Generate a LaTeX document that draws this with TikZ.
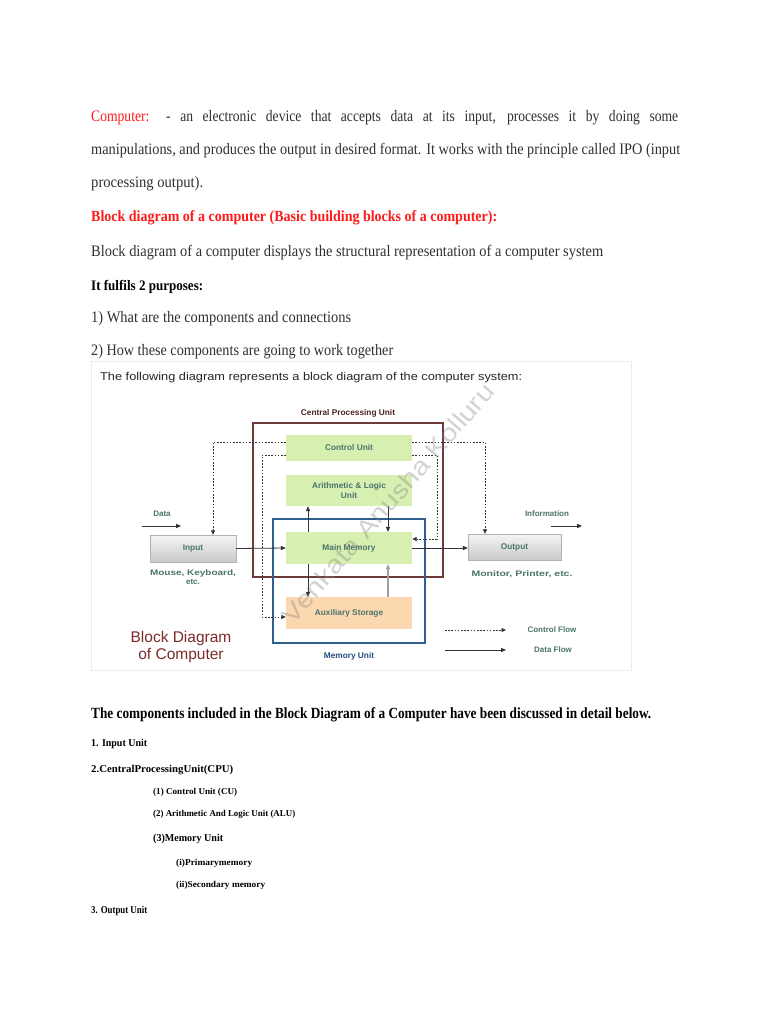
\documentclass[tikz,border=0pt]{standalone}
\usepackage{fontspec}
\setmainfont{Liberation Serif}
\newfontfamily\diag{Liberation Sans}
\usepackage{graphicx}
\usetikzlibrary{arrows.meta}
\definecolor{bodygray}{HTML}{303030}
\definecolor{hred}{HTML}{FF1A1A}
\definecolor{boxgreen}{HTML}{D7EFB1}
\definecolor{boxorange}{HTML}{FCD8B0}
\definecolor{teal}{HTML}{4A746C}
\definecolor{cpubrown}{HTML}{6E3B3B}
\definecolor{cpulabel}{HTML}{4B2323}
\definecolor{memblue}{HTML}{2F5F8F}
\definecolor{memlabel}{HTML}{254D80}
\definecolor{bdmaroon}{HTML}{7B2C2C}
\newcommand\fitto[2]{\resizebox{#1pt}{\height}{#2}}
\tikzset{
  txt/.style={anchor=base west, inner sep=0pt, text=bodygray},
  bodyfont/.style={font=\fontsize{16}{19}\selectfont},
  unitbox/.style={fill=boxgreen, minimum width=126pt, inner sep=0pt, font=\diag\bfseries\fontsize{8.3}{9.5}\selectfont, text=teal, align=center},
  iobox/.style={draw=gray!60, top color=gray!8, bottom color=gray!42, inner sep=0pt, font=\diag\bfseries\fontsize{8.3}{9.5}\selectfont, text=teal},
  dlabel/.style={inner sep=0pt, font=\diag\bfseries\fontsize{8}{9}\selectfont, text=teal, align=center},
  ctrl/.style={densely dashed, dash pattern=on 1.6pt off 1.6pt, line width=0.7pt, draw=black!80, -{Triangle[length=4.5pt,width=4pt]}},
  dataflow/.style={line width=0.8pt, draw=black!80, -{Triangle[length=5pt,width=4.2pt]}},
}
\begin{document}
\begin{tikzpicture}[x=1pt,y=-1pt]
\useasboundingbox (0,0) rectangle (768,1024);
\fill[white] (0,0) rectangle (768,1024);

% ---------- upper text ----------
\node[txt, bodyfont] (l1) at (91,122)
  {\resizebox{587pt}{\height}{\makebox[690pt][s]{\textcolor{hred}{Computer:} - an electronic device that accepts data at its input, processes it by doing some}}};
\node[txt, bodyfont] (l2) at (91,155)
  {\fitto{589}{manipulations, and produces the output in desired format. It works with the principle called IPO (input}};
\node[txt, bodyfont] (l3) at (91,188)
  {\fitto{112}{processing output).}};
\node[txt, text=hred, font=\bfseries\fontsize{15.5}{18}\selectfont] (l4) at (91,222)
  {\fitto{406}{Block diagram of a computer (Basic building blocks of a computer):}};
\node[txt, bodyfont] (l5) at (91,256)
  {\fitto{512}{Block diagram of a computer displays the structural representation of a computer system}};
\node[txt, text=black, font=\bfseries\fontsize{14.5}{17}\selectfont] (l6) at (91,290)
  {\fitto{112}{It fulfils 2 purposes:}};
\node[txt, bodyfont] (l7) at (91,322)
  {\fitto{260}{1) What are the components and connections}};
\node[txt, bodyfont] (l8) at (91,355)
  {\fitto{302}{2) How these components are going to work together}};

% ---------- diagram panel ----------
\draw[gray!15, fill=white] (91,361) rectangle (631,670);
\node[anchor=west, inner sep=0pt, font=\diag\fontsize{11.3}{13}\selectfont, text=black!85] (cap) at (100,378)
  {\fitto{422}{The following diagram represents a block diagram of the computer system:}};

\coordinate (oL) at (213,442);
\coordinate (oR) at (485,442);
\coordinate (iL) at (262,455);
\coordinate (iR) at (437,455);
\coordinate (iRb) at (437,539);
\coordinate (iLb) at (262,617);

% containers
\node[inner sep=0pt, font=\diag\bfseries\fontsize{8.3}{9.5}\selectfont, text=cpulabel] (cpulab) at (348,413) {Central Processing Unit};
\draw[cpubrown, line width=1.6pt] (253,423) rectangle (443,577);
\draw[memblue, line width=1.6pt] (273,519) rectangle (425,643);
\node[inner sep=0pt, font=\diag\bfseries\fontsize{8.3}{9.5}\selectfont, text=memlabel] (memlab) at (349,656) {Memory Unit};

% boxes
\node[unitbox, minimum height=26pt] (cu) at (349,448) {Control Unit};
\node[unitbox, minimum height=31pt] (alu) at (349,490.5) {Arithmetic \& Logic\\Unit};
\node[unitbox, minimum height=32pt] (mm) at (349,548) {Main Memory};
\node[unitbox, fill=boxorange, minimum height=32pt] (aux) at (349,613) {Auxiliary Storage};
\node[iobox, minimum width=86pt, minimum height=27pt] (input) at (193,548.5) {Input};
\node[iobox, minimum width=93pt, minimum height=26pt] (output) at (514.5,547) {Output};

% control flow
\draw[ctrl] (cu.west |- oL) -- (oL) -- (oL |- input.north);
\draw[ctrl] (cu.east |- oR) -- (oR) -- (oR |- output.north);
\draw[ctrl] (cu.east |- iR) -- (iR) -- (iRb) -- (mm.east |- iRb);
\draw[ctrl] (cu.west |- iL) -- (iL) -- (iLb) -- (aux.west |- iLb);

% data flow
\coordinate (xa) at (308,0);
\coordinate (xb) at (388,0);
\draw[dataflow] (input.east) -- (mm.west);
\draw[dataflow] (mm.east) -- (output.west |- mm.east);
\draw[dataflow] (mm.north -| xa) -- (alu.south -| xa);
\draw[dataflow] (alu.south -| xb) -- (mm.north -| xb);
\draw[dataflow] (mm.south -| xa) -- (aux.north -| xa);
\draw[dataflow, draw=gray!75, line width=1.1pt] (aux.north -| xb) -- (mm.south -| xb);

% data / information
\coordinate (dS) at (142,526);
\coordinate (dE) at (181,526);
\draw[dataflow] (dS) -- (dE);
\node[dlabel] (datalab) at (162,514) {Data};
\coordinate (inS) at (551,526);
\coordinate (inE) at (582,526);
\draw[dataflow] (inS) -- (inE);
\node[dlabel] (infolab) at (547,514) {Information};
\node[dlabel] (inlab) at (193,577) {\fitto{86}{Mouse, Keyboard,}\\etc.};
\node[dlabel] (outlab) at (522,574) {\fitto{101}{Monitor, Printer, etc.}};

% legend
\coordinate (cfS) at (445,630);
\coordinate (cfE) at (506,630);
\coordinate (dfS) at (445,650);
\coordinate (dfE) at (506,650);
\draw[ctrl] (cfS) -- (cfE);
\draw[dataflow] (dfS) -- (dfE);
\node[dlabel] (cflab) at (552,630) {Control Flow};
\node[dlabel] (dflab) at (553,650) {Data Flow};

% title in diagram
\node[inner sep=0pt, align=center, text=bdmaroon, font=\diag\fontsize{15.5}{17}\selectfont] (bd) at (181,647) {Block Diagram\\of Computer};

% watermark
\node[inner sep=0pt, rotate=49, text=gray, opacity=0.35, font=\diag\fontsize{25}{30}\selectfont] (wm) at (388,503) {\fitto{308}{Venkata Anusha Kolluru}};

% ---------- lower text ----------
\node[txt, text=black, font=\bfseries\fontsize{15.5}{18}\selectfont] (l9) at (91,718)
  {\fitto{560}{The components included in the Block Diagram of a Computer have been discussed in detail below.}};
\node[txt, text=black, font=\bfseries\fontsize{10.5}{12}\selectfont] (l10) at (91,746)
  {\fitto{56}{1. Input Unit}};
\node[txt, text=black, font=\bfseries\fontsize{10.5}{12}\selectfont] (l11) at (91,772)
  {\fitto{142}{2.CentralProcessingUnit(CPU)}};
\node[txt, text=black, font=\bfseries\fontsize{9}{11}\selectfont] (l12) at (153,794)
  {\fitto{84}{(1) Control Unit (CU)}};
\node[txt, text=black, font=\bfseries\fontsize{9}{11}\selectfont] (l13) at (153,816)
  {\fitto{142}{(2) Arithmetic And Logic Unit (ALU)}};
\node[txt, text=black, font=\bfseries\fontsize{10.5}{12}\selectfont] (l14) at (153,841)
  {\fitto{70}{(3)Memory Unit}};
\node[txt, text=black, font=\bfseries\fontsize{9}{11}\selectfont] (l15) at (176,865)
  {\fitto{76}{(i)Primarymemory}};
\node[txt, text=black, font=\bfseries\fontsize{9}{11}\selectfont] (l16) at (176,887)
  {\fitto{89}{(ii)Secondary memory}};
\node[txt, text=black, font=\bfseries\fontsize{10.5}{12}\selectfont] (l17) at (91,913)
  {\fitto{56}{3. Output Unit}};
\end{tikzpicture}
\end{document}
